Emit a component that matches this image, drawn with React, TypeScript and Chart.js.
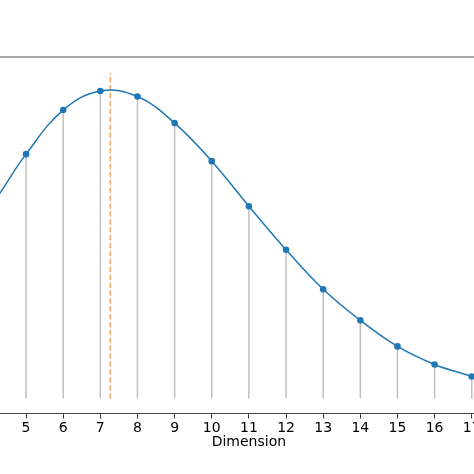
import React, { useEffect, useRef } from "react";
import { Chart, registerables } from "chart.js";
Chart.register(...registerables);

// Data
const dims = [5, 6, 7, 8, 9, 10, 11, 12, 13, 14, 15, 16, 17];
const values = [0.244, 0.288, 0.307, 0.3015, 0.275, 0.237, 0.192, 0.1485, 0.109, 0.078, 0.052, 0.034, 0.022];
// curve values at the visible left / right edges of the crop
const curveEdgeX = [4.28, 17.13];
const curveEdgeY = [0.204, 0.0205];
const peakDim = 7.27;
const peakLineTop = 0.325;
const xAxisMin = 4;
const xAxisMax = 18;
const yAxisMin = -0.015;
const yAxisMax = 0.341;

const BLUE = "#1f77b4";

export default function App() {
  const ref = useRef<HTMLCanvasElement | null>(null);

  useEffect(() => {
    if (!ref.current) return;
    const curve = [
      { x: curveEdgeX[0], y: curveEdgeY[0] },
      ...dims.map((d, i) => ({ x: d, y: values[i] })),
      { x: curveEdgeX[1], y: curveEdgeY[1] },
    ];
    const points = dims.map((d, i) => ({ x: d, y: values[i] }));
    const stems = dims.map((d, i) => ({
      type: "line" as const,
      data: [
        { x: d, y: 0 },
        { x: d, y: values[i] },
      ],
      borderColor: "rgba(128,128,128,0.5)",
      borderWidth: 1.5,
      pointRadius: 0,
      tension: 0,
    }));

    const spines = {
      id: "spines",
      afterDraw(chart: any) {
        const { ctx, chartArea } = chart;
        ctx.save();
        ctx.strokeStyle = "#555";
        ctx.lineWidth = 1.1;
        ctx.beginPath();
        ctx.moveTo(chartArea.left, chartArea.top);
        ctx.lineTo(chartArea.right, chartArea.top);
        ctx.moveTo(chartArea.left, chartArea.top);
        ctx.lineTo(chartArea.left, chartArea.bottom);
        ctx.moveTo(chartArea.right, chartArea.top);
        ctx.lineTo(chartArea.right, chartArea.bottom);
        ctx.stroke();
        ctx.restore();
      },
    };

    const chart = new Chart(ref.current, {
      type: "line",
      data: {
        datasets: [
          {
            data: points,
            showLine: false,
            pointRadius: 3.3,
            pointBackgroundColor: BLUE,
            pointBorderColor: BLUE,
            pointBorderWidth: 0,
          },
          {
            data: curve,
            borderColor: BLUE,
            borderWidth: 1.5,
            pointRadius: 0,
            tension: 0.4,
            fill: false,
          },
          {
            data: [
              { x: peakDim, y: 0 },
              { x: peakDim, y: peakLineTop },
            ],
            borderColor: "rgba(240,140,50,0.75)",
            borderWidth: 1.5,
            borderDash: [5.5, 2.4],
            pointRadius: 0,
          },
          ...stems,
        ] as any,
      },
      options: {
        responsive: false,
        animation: false,
        layout: { padding: { left: 28.9, right: 11.1, top: 57, bottom: 19.2 } },
        plugins: { legend: { display: false }, tooltip: { enabled: false } },
        scales: {
          x: {
            type: "linear",
            min: xAxisMin,
            max: xAxisMax,
            afterFit(scale: any) {
              scale.height = 41.3;
            },
            ticks: {
              stepSize: 1,
              autoSkip: false,
              maxRotation: 0,
              padding: 1,
              color: "#000",
              font: { family: "DejaVu Sans", size: 14 },
            },
            grid: {
              drawOnChartArea: false,
              drawTicks: true,
              tickLength: 5,
              color: "#333",
              lineWidth: 1,
            },
            border: { display: true, color: "#444", width: 1.1 },
            title: {
              display: true,
              text: "Dimension",
              color: "#000",
              font: { family: "DejaVu Sans", size: 14 },
              padding: { top: 4, bottom: 4 },
            },
          },
          y: {
            display: false,
            min: yAxisMin,
            max: yAxisMax,
          },
        },
      },
      plugins: [spines],
    });
    return () => chart.destroy();
  }, []);

  return (
    <div
      style={{
        position: "fixed",
        left: 0,
        top: 0,
        width: 474,
        height: 474,
        overflow: "hidden",
        background: "#fff",
      }}
    >
      <canvas
        ref={ref}
        width={560}
        height={474}
        style={{ position: "absolute", left: -40, top: 0, width: 560, height: 474 }}
      />
    </div>
  );
}
